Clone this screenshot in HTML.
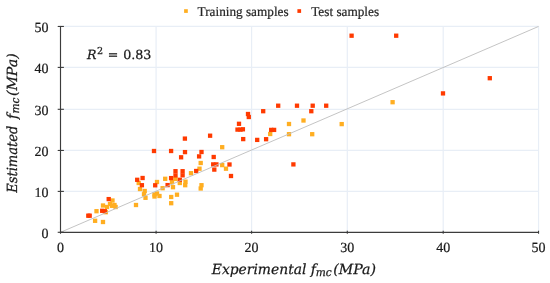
<!DOCTYPE html>
<html><head><meta charset="utf-8"><style>
html,body{margin:0;padding:0;background:#fff;}
body{width:550px;height:283px;overflow:hidden;}
svg{display:block;}
text{text-rendering:geometricPrecision;}
.tk{font-family:"Liberation Serif",serif;font-size:14px;fill:#1a1a1a;stroke:#1a1a1a;stroke-width:0.2px;}
.lg{font-family:"Liberation Serif",serif;font-size:13.5px;fill:#262626;stroke:#262626;stroke-width:0.2px;}
.mi{font-family:"DejaVu Serif","Liberation Serif",serif;font-style:italic;fill:#1a1a1a;stroke:#1a1a1a;stroke-width:0.25px;}
.mu{font-family:"DejaVu Serif","Liberation Serif",serif;fill:#1a1a1a;stroke:#1a1a1a;stroke-width:0.25px;}
</style></head><body>
<svg width="550" height="283" viewBox="0 0 550 283">
<rect width="550" height="283" fill="#fff"/>
<line x1="156.10" y1="26.45" x2="156.10" y2="232.30" stroke="#E8EEF6" stroke-width="1.2"/>
<line x1="60.50" y1="191.40" x2="538.55" y2="191.40" stroke="#E8EEF6" stroke-width="1.2"/>
<line x1="251.60" y1="26.45" x2="251.60" y2="232.30" stroke="#E8EEF6" stroke-width="1.2"/>
<line x1="60.50" y1="150.45" x2="538.55" y2="150.45" stroke="#E8EEF6" stroke-width="1.2"/>
<line x1="347.30" y1="26.45" x2="347.30" y2="232.30" stroke="#E8EEF6" stroke-width="1.2"/>
<line x1="60.50" y1="109.30" x2="538.55" y2="109.30" stroke="#E8EEF6" stroke-width="1.2"/>
<line x1="443.20" y1="26.45" x2="443.20" y2="232.30" stroke="#E8EEF6" stroke-width="1.2"/>
<line x1="60.50" y1="67.40" x2="538.55" y2="67.40" stroke="#E8EEF6" stroke-width="1.2"/>
<line x1="538.55" y1="26.45" x2="538.55" y2="232.30" stroke="#E8EEF6" stroke-width="1.2"/>
<line x1="60.50" y1="26.45" x2="538.55" y2="26.45" stroke="#E8EEF6" stroke-width="1.2"/>
<rect x="92.95" y="218.65" width="4.3" height="4.3" fill="#FFAE21"/>
<rect x="100.85" y="219.85" width="4.3" height="4.3" fill="#FFAE21"/>
<rect x="94.35" y="209.05" width="4.3" height="4.3" fill="#FFAE21"/>
<rect x="103.65" y="210.05" width="4.3" height="4.3" fill="#FFAE21"/>
<rect x="100.85" y="203.35" width="4.3" height="4.3" fill="#FFAE21"/>
<rect x="104.85" y="204.85" width="4.3" height="4.3" fill="#FFAE21"/>
<rect x="107.85" y="201.85" width="4.3" height="4.3" fill="#FFAE21"/>
<rect x="110.35" y="198.35" width="4.3" height="4.3" fill="#FFAE21"/>
<rect x="112.35" y="202.85" width="4.3" height="4.3" fill="#FFAE21"/>
<rect x="113.45" y="204.85" width="4.3" height="4.3" fill="#FFAE21"/>
<rect x="109.85" y="203.65" width="4.3" height="4.3" fill="#FFAE21"/>
<rect x="136.55" y="180.85" width="4.3" height="4.3" fill="#FFAE21"/>
<rect x="137.85" y="186.85" width="4.3" height="4.3" fill="#FFAE21"/>
<rect x="142.55" y="188.85" width="4.3" height="4.3" fill="#FFAE21"/>
<rect x="141.85" y="192.15" width="4.3" height="4.3" fill="#FFAE21"/>
<rect x="143.35" y="195.65" width="4.3" height="4.3" fill="#FFAE21"/>
<rect x="154.85" y="179.85" width="4.3" height="4.3" fill="#FFAE21"/>
<rect x="152.35" y="192.35" width="4.3" height="4.3" fill="#FFAE21"/>
<rect x="154.85" y="191.35" width="4.3" height="4.3" fill="#FFAE21"/>
<rect x="157.35" y="193.85" width="4.3" height="4.3" fill="#FFAE21"/>
<rect x="152.35" y="194.35" width="4.3" height="4.3" fill="#FFAE21"/>
<rect x="160.45" y="186.05" width="4.3" height="4.3" fill="#FFAE21"/>
<rect x="133.85" y="202.85" width="4.3" height="4.3" fill="#FFAE21"/>
<rect x="198.55" y="160.85" width="4.3" height="4.3" fill="#FFAE21"/>
<rect x="197.35" y="166.55" width="4.3" height="4.3" fill="#FFAE21"/>
<rect x="188.85" y="171.05" width="4.3" height="4.3" fill="#FFAE21"/>
<rect x="173.25" y="176.75" width="4.3" height="4.3" fill="#FFAE21"/>
<rect x="163.05" y="176.65" width="4.3" height="4.3" fill="#FFAE21"/>
<rect x="169.85" y="180.05" width="4.3" height="4.3" fill="#FFAE21"/>
<rect x="177.65" y="180.85" width="4.3" height="4.3" fill="#FFAE21"/>
<rect x="183.35" y="179.55" width="4.3" height="4.3" fill="#FFAE21"/>
<rect x="183.05" y="183.05" width="4.3" height="4.3" fill="#FFAE21"/>
<rect x="170.85" y="185.05" width="4.3" height="4.3" fill="#FFAE21"/>
<rect x="199.35" y="183.05" width="4.3" height="4.3" fill="#FFAE21"/>
<rect x="198.55" y="186.35" width="4.3" height="4.3" fill="#FFAE21"/>
<rect x="174.85" y="192.55" width="4.3" height="4.3" fill="#FFAE21"/>
<rect x="169.05" y="194.85" width="4.3" height="4.3" fill="#FFAE21"/>
<rect x="169.05" y="201.05" width="4.3" height="4.3" fill="#FFAE21"/>
<rect x="220.05" y="145.05" width="4.3" height="4.3" fill="#FFAE21"/>
<rect x="220.05" y="162.95" width="4.3" height="4.3" fill="#FFAE21"/>
<rect x="223.85" y="166.55" width="4.3" height="4.3" fill="#FFAE21"/>
<rect x="268.05" y="131.85" width="4.3" height="4.3" fill="#FFAE21"/>
<rect x="286.85" y="121.85" width="4.3" height="4.3" fill="#FFAE21"/>
<rect x="286.85" y="132.05" width="4.3" height="4.3" fill="#FFAE21"/>
<rect x="301.35" y="118.35" width="4.3" height="4.3" fill="#FFAE21"/>
<rect x="310.05" y="132.05" width="4.3" height="4.3" fill="#FFAE21"/>
<rect x="339.55" y="121.95" width="4.3" height="4.3" fill="#FFAE21"/>
<rect x="390.45" y="100.05" width="4.3" height="4.3" fill="#FFAE21"/>
<rect x="86.15" y="213.55" width="4.3" height="4.3" fill="#FF3A00"/>
<rect x="87.55" y="213.55" width="4.3" height="4.3" fill="#FF3A00"/>
<rect x="100.05" y="208.65" width="4.3" height="4.3" fill="#FF3A00"/>
<rect x="102.65" y="209.05" width="4.3" height="4.3" fill="#FF3A00"/>
<rect x="106.55" y="196.95" width="4.3" height="4.3" fill="#FF3A00"/>
<rect x="135.05" y="177.65" width="4.3" height="4.3" fill="#FF3A00"/>
<rect x="140.45" y="175.85" width="4.3" height="4.3" fill="#FF3A00"/>
<rect x="139.75" y="183.05" width="4.3" height="4.3" fill="#FF3A00"/>
<rect x="153.05" y="183.15" width="4.3" height="4.3" fill="#FF3A00"/>
<rect x="173.35" y="169.05" width="4.3" height="4.3" fill="#FF3A00"/>
<rect x="173.35" y="173.25" width="4.3" height="4.3" fill="#FF3A00"/>
<rect x="180.45" y="169.05" width="4.3" height="4.3" fill="#FF3A00"/>
<rect x="180.45" y="173.15" width="4.3" height="4.3" fill="#FF3A00"/>
<rect x="168.95" y="175.95" width="4.3" height="4.3" fill="#FF3A00"/>
<rect x="177.65" y="177.65" width="4.3" height="4.3" fill="#FF3A00"/>
<rect x="165.45" y="182.95" width="4.3" height="4.3" fill="#FF3A00"/>
<rect x="194.05" y="168.85" width="4.3" height="4.3" fill="#FF3A00"/>
<rect x="199.35" y="149.85" width="4.3" height="4.3" fill="#FF3A00"/>
<rect x="196.95" y="154.25" width="4.3" height="4.3" fill="#FF3A00"/>
<rect x="211.55" y="154.85" width="4.3" height="4.3" fill="#FF3A00"/>
<rect x="211.05" y="162.25" width="4.3" height="4.3" fill="#FF3A00"/>
<rect x="214.25" y="162.25" width="4.3" height="4.3" fill="#FF3A00"/>
<rect x="212.15" y="167.45" width="4.3" height="4.3" fill="#FF3A00"/>
<rect x="227.35" y="162.35" width="4.3" height="4.3" fill="#FF3A00"/>
<rect x="228.85" y="173.85" width="4.3" height="4.3" fill="#FF3A00"/>
<rect x="151.85" y="148.85" width="4.3" height="4.3" fill="#FF3A00"/>
<rect x="168.95" y="148.85" width="4.3" height="4.3" fill="#FF3A00"/>
<rect x="182.85" y="149.95" width="4.3" height="4.3" fill="#FF3A00"/>
<rect x="178.95" y="155.15" width="4.3" height="4.3" fill="#FF3A00"/>
<rect x="182.75" y="136.45" width="4.3" height="4.3" fill="#FF3A00"/>
<rect x="207.95" y="133.55" width="4.3" height="4.3" fill="#FF3A00"/>
<rect x="236.85" y="121.65" width="4.3" height="4.3" fill="#FF3A00"/>
<rect x="235.35" y="127.45" width="4.3" height="4.3" fill="#FF3A00"/>
<rect x="238.35" y="127.45" width="4.3" height="4.3" fill="#FF3A00"/>
<rect x="240.75" y="127.15" width="4.3" height="4.3" fill="#FF3A00"/>
<rect x="241.05" y="136.95" width="4.3" height="4.3" fill="#FF3A00"/>
<rect x="255.05" y="137.75" width="4.3" height="4.3" fill="#FF3A00"/>
<rect x="263.95" y="137.05" width="4.3" height="4.3" fill="#FF3A00"/>
<rect x="269.05" y="127.75" width="4.3" height="4.3" fill="#FF3A00"/>
<rect x="271.95" y="127.75" width="4.3" height="4.3" fill="#FF3A00"/>
<rect x="245.85" y="111.85" width="4.3" height="4.3" fill="#FF3A00"/>
<rect x="246.65" y="114.85" width="4.3" height="4.3" fill="#FF3A00"/>
<rect x="261.05" y="109.05" width="4.3" height="4.3" fill="#FF3A00"/>
<rect x="276.05" y="103.55" width="4.3" height="4.3" fill="#FF3A00"/>
<rect x="294.85" y="103.55" width="4.3" height="4.3" fill="#FF3A00"/>
<rect x="310.55" y="103.55" width="4.3" height="4.3" fill="#FF3A00"/>
<rect x="324.05" y="103.55" width="4.3" height="4.3" fill="#FF3A00"/>
<rect x="309.15" y="109.05" width="4.3" height="4.3" fill="#FF3A00"/>
<rect x="291.25" y="162.25" width="4.3" height="4.3" fill="#FF3A00"/>
<rect x="349.45" y="33.55" width="4.3" height="4.3" fill="#FF3A00"/>
<rect x="394.05" y="33.55" width="4.3" height="4.3" fill="#FF3A00"/>
<rect x="440.85" y="91.25" width="4.3" height="4.3" fill="#FF3A00"/>
<rect x="487.65" y="76.05" width="4.3" height="4.3" fill="#FF3A00"/>
<line x1="60.50" y1="232.30" x2="538.55" y2="26.45" stroke="#BDBDBD" stroke-width="0.9"/>
<line x1="60.50" y1="25.95" x2="60.50" y2="232.80" stroke="#3C3C3C" stroke-width="1.15"/>
<line x1="60.00" y1="232.30" x2="538.55" y2="232.30" stroke="#3C3C3C" stroke-width="1.15"/>
<line x1="57.70" y1="232.30" x2="63.90" y2="232.30" stroke="#3C3C3C" stroke-width="1.1"/>
<text x="48.4" y="238.30" text-anchor="end" class="tk">0</text>
<line x1="57.70" y1="191.40" x2="63.90" y2="191.40" stroke="#3C3C3C" stroke-width="1.1"/>
<text x="48.4" y="197.40" text-anchor="end" class="tk">10</text>
<line x1="57.70" y1="150.45" x2="63.90" y2="150.45" stroke="#3C3C3C" stroke-width="1.1"/>
<text x="48.4" y="156.45" text-anchor="end" class="tk">20</text>
<line x1="57.70" y1="109.30" x2="63.90" y2="109.30" stroke="#3C3C3C" stroke-width="1.1"/>
<text x="48.4" y="115.30" text-anchor="end" class="tk">30</text>
<line x1="57.70" y1="67.40" x2="63.90" y2="67.40" stroke="#3C3C3C" stroke-width="1.1"/>
<text x="48.4" y="73.40" text-anchor="end" class="tk">40</text>
<line x1="57.70" y1="26.45" x2="63.90" y2="26.45" stroke="#3C3C3C" stroke-width="1.1"/>
<text x="48.4" y="32.45" text-anchor="end" class="tk">50</text>
<line x1="60.50" y1="230.80" x2="60.50" y2="233.80" stroke="#3C3C3C" stroke-width="1.1"/>
<text x="60.50" y="251.6" text-anchor="middle" class="tk">0</text>
<line x1="156.10" y1="230.80" x2="156.10" y2="233.80" stroke="#3C3C3C" stroke-width="1.1"/>
<text x="156.10" y="251.6" text-anchor="middle" class="tk">10</text>
<line x1="251.60" y1="230.80" x2="251.60" y2="233.80" stroke="#3C3C3C" stroke-width="1.1"/>
<text x="251.60" y="251.6" text-anchor="middle" class="tk">20</text>
<line x1="347.30" y1="230.80" x2="347.30" y2="233.80" stroke="#3C3C3C" stroke-width="1.1"/>
<text x="347.30" y="251.6" text-anchor="middle" class="tk">30</text>
<line x1="443.20" y1="230.80" x2="443.20" y2="233.80" stroke="#3C3C3C" stroke-width="1.1"/>
<text x="443.20" y="251.6" text-anchor="middle" class="tk">40</text>
<line x1="538.55" y1="230.80" x2="538.55" y2="233.80" stroke="#3C3C3C" stroke-width="1.1"/>
<text x="538.55" y="251.6" text-anchor="middle" class="tk">50</text>
<rect x="184.1" y="9.2" width="3.7" height="3.7" fill="#FFAE21"/>
<text x="197.6" y="16.1" class="lg" textLength="91" lengthAdjust="spacingAndGlyphs">Training samples</text>
<rect x="297.4" y="9.2" width="3.7" height="3.7" fill="#FF3A00"/>
<text x="311.2" y="16.1" class="lg" textLength="67.9" lengthAdjust="spacingAndGlyphs">Test samples</text>
<text x="87.0" y="58.8" class="mi" font-size="12.6">R</text>
<text x="96.9" y="54.0" class="mu" font-size="9.6">2</text>
<text x="107.8" y="58.8" class="mu" font-size="12.6">=</text>
<text x="123.2" y="58.8" class="mu" font-size="12.6" textLength="28.2" lengthAdjust="spacingAndGlyphs">0.83</text>
<text x="211.8" y="273.5" class="mi" font-size="14" textLength="94.6" lengthAdjust="spacingAndGlyphs">Experimental</text>
<text x="310.8" y="273.5" class="mi" font-size="14">f</text>
<text x="315.8" y="276" class="mi" font-size="11" textLength="16" lengthAdjust="spacingAndGlyphs">mc</text>
<text x="333.2" y="273.5" class="mi" font-size="14" textLength="42.8" lengthAdjust="spacingAndGlyphs">(MPa)</text>
<g transform="translate(16.8,193.5) rotate(-90)">
<text x="0.7" y="0" class="mi" font-size="14" textLength="67.2" lengthAdjust="spacingAndGlyphs">Estimated</text>
<text x="74.6" y="0" class="mi" font-size="14">f</text>
<text x="80" y="2.5" class="mi" font-size="11" textLength="16" lengthAdjust="spacingAndGlyphs">mc</text>
<text x="97.4" y="0" class="mi" font-size="14" textLength="42.8" lengthAdjust="spacingAndGlyphs">(MPa)</text>
</g>
</svg>
</body></html>
